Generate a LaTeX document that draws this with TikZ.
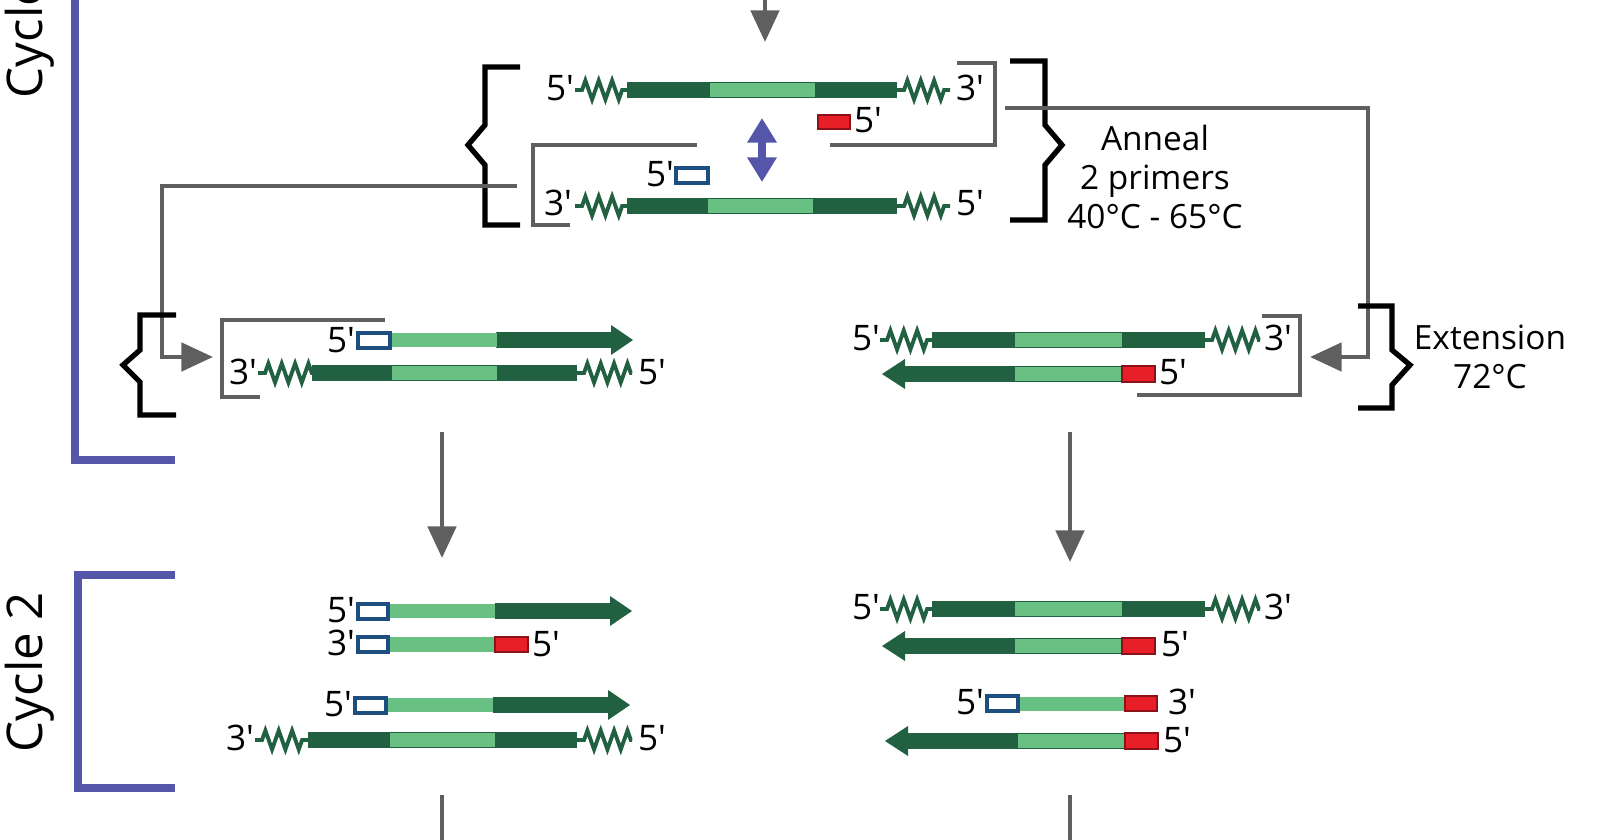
\documentclass[tikz,border=0pt]{standalone}
\usepackage{fontspec}
\setmainfont{Open Sans}[Ligatures=TeXOff]
\usetikzlibrary{arrows.meta,decorations.pathmorphing}

\definecolor{dkgreen}{RGB}{33,96,64}
\definecolor{ltgreen}{RGB}{104,192,131}
\definecolor{prred}{RGB}{232,30,40}
\definecolor{prblue}{RGB}{30,78,128}
\definecolor{cycpurple}{RGB}{85,85,170}
\definecolor{conngray}{RGB}{95,95,95}

\tikzset{
  zz/.style={dkgreen, line width=1.1pt, decorate,
    decoration={zigzag, segment length=3.8pt, amplitude=2.7pt, pre length=2pt, post length=0pt}},
  dark/.style={fill=dkgreen},
  light/.style={fill=ltgreen},
  redp/.style={fill=prred, draw=prred!60!black, line width=0.5pt},
  bluep/.style={fill=white, draw=prblue, line width=1pt},
  lab/.style={font=\fontsize{10}{12}\selectfont, inner sep=0pt},
  txt/.style={font=\fontsize{9.5}{12}\selectfont, inner sep=0pt, align=center},
  cyc/.style={font=\fontsize{14}{17}\selectfont, inner sep=0pt, rotate=90},
  conn/.style={conngray, line width=1.3pt},
  arr/.style={conn, -{Triangle[length=9pt, width=8pt]}},
  brace/.style={black, line width=1.5pt},
  bracket/.style={conngray, line width=1.3pt},
  cycbr/.style={cycpurple, line width=2.2pt}
}

% template strand: zigzag, dark bar, light middle, zigzag
\newcommand{\template}[7]{%
  \draw[zz] (#1,#7) -- (#2,#7);
  \fill[dark] (#2,#7-8) rectangle (#5,#7+8);
  \fill[light] (#3,#7-7) rectangle (#4,#7+7);
  \draw[zz] (#5,#7) -- (#6,#7);
}
% strand growing to the right, ends in a head at #1+22
\newcommand{\rstrand}[2]{%
  \fill[dark] (#1-115,#2-8) rectangle (#1,#2+8);
  \fill[dark] (#1,#2-15) -- (#1+22,#2) -- (#1,#2+15) -- cycle;
}
% strand growing to the left, head tip at #1
\newcommand{\lstrand}[3]{%
  \fill[dark] (#1+23,#3-8) rectangle (#2,#3+8);
  \fill[dark] (#1+23,#3-15) -- (#1,#3) -- (#1+23,#3+15) -- cycle;
}

\begin{document}
\begin{tikzpicture}[x=0.01cm, y=-0.01cm]
\useasboundingbox (0,0) rectangle (1600,840);

% cycle brackets
\draw[cycbr] (75,-5) -- (75,460) -- (175,460);
\draw[cycbr] (175,575) -- (78,575) -- (78,788) -- (175,788);
\node[cyc] (cyc1) at (30,18) {Cycle 1};
\node[cyc] (cyc2) at (30,672) {Cycle 2};

% top: anneal
\coordinate (topin) at (765,-5);
\coordinate (topout) at (765,42);
\draw[arr] (topin) -- (topout);

\template{575}{627}{710}{815}{897}{950}{90}
\node[lab] (a1) at (560,88) {5'};
\node[lab] (a2) at (970,88) {3'};
\fill[redp] (818,115) rectangle (850,129);
\node[lab] (a3) at (868,120) {5'};
\draw[cycpurple, line width=2.2pt, {Triangle[length=7pt,width=8pt]}-{Triangle[length=7pt,width=8pt]}] (762,118) -- (762,182);
\fill[bluep] (676,168) rectangle (708,183);
\node[lab] (a4) at (660,174) {5'};
\template{575}{627}{708}{813}{897}{950}{206}
\node[lab] (a5) at (558,203) {3'};
\node[lab] (a6) at (970,203) {5'};

\draw[brace] (520,67) -- (485,67) -- (485,125) -- (468,145) -- (485,165) -- (485,225) -- (520,225);
\draw[bracket] (697,145) -- (533,145) -- (533,225) -- (570,225);
\draw[bracket] (957,63) -- (995,63) -- (995,145) -- (830,145);
\draw[brace] (1010,61) -- (1045,61) -- (1045,125) -- (1062,145) -- (1045,165) -- (1045,220) -- (1010,220);
\node[txt] (anneal) at (1155,177) {Anneal\\[-1pt]2 primers\\[-1pt]40°C - 65°C};

\coordinate (lconn) at (517,186);
\coordinate (lhead) at (213,357);
\draw[arr] (lconn) -- (162,186) -- (162,357) -- (lhead);
\coordinate (rconn) at (1005,108);
\coordinate (rhead) at (1310,357);
\draw[arr] (rconn) -- (1368,108) -- (1368,357) -- (rhead);

% cycle 1 extension, left
\draw[brace] (176,315) -- (140,315) -- (140,350) -- (123,365) -- (140,382) -- (140,415) -- (176,415);
\draw[bracket] (385,320) -- (222,320) -- (222,397) -- (260,397);
\rstrand{611}{340}
\fill[light] (390,333) rectangle (497,347);
\fill[bluep] (358,333) rectangle (390,348);
\node[lab] (b1) at (341,340) {5'};
\template{258}{312}{392}{497}{577}{632}{373}
\node[lab] (b2) at (243,372) {3'};
\node[lab] (b3) at (652,372) {5'};

% cycle 1 extension, right
\template{880}{932}{1015}{1122}{1205}{1260}{340}
\node[lab] (c1) at (866,338) {5'};
\node[lab] (c2) at (1278,338) {3'};
\lstrand{882}{1122}{374}
\fill[light] (1015,367) rectangle (1122,381);
\fill[redp] (1122,366) rectangle (1155,382);
\node[lab] (c3) at (1173,372) {5'};
\draw[bracket] (1262,316) -- (1300,316) -- (1300,395) -- (1137,395);
\draw[brace] (1358,306) -- (1392,306) -- (1392,350) -- (1410,365) -- (1392,385) -- (1392,408) -- (1358,408);
\node[txt] (ext) at (1490,357) {Extension\\[-1pt]72°C};

% down arrows
\coordinate (l1) at (442,432); \coordinate (l2) at (442,558);
\coordinate (r1) at (1070,432); \coordinate (r2) at (1070,562);
\draw[arr] (l1) -- (l2);
\draw[arr] (r1) -- (r2);
\coordinate (l3) at (442,795); \coordinate (l4) at (442,845);
\coordinate (r3) at (1070,795); \coordinate (r4) at (1070,845);
\draw[conn] (l3) -- (l4);
\draw[conn] (r3) -- (r4);

% cycle 2, left
\rstrand{610}{611}
\fill[light] (388,604) rectangle (495,618);
\fill[bluep] (358,604) rectangle (388,619);
\node[lab] (d1) at (341,610) {5'};
\fill[light] (388,637) rectangle (495,652);
\fill[bluep] (358,637) rectangle (388,652);
\fill[redp] (495,637) rectangle (528,652);
\node[lab] (d2) at (341,643) {3'};
\node[lab] (d3) at (546,644) {5'};
\rstrand{608}{705}
\fill[light] (386,698) rectangle (493,712);
\fill[bluep] (355,698) rectangle (386,713);
\node[lab] (d4) at (338,704) {5'};
\template{255}{308}{390}{495}{577}{632}{740}
\node[lab] (d5) at (240,738) {3'};
\node[lab] (d6) at (652,738) {5'};

% cycle 2, right
\template{880}{932}{1015}{1122}{1205}{1260}{609}
\node[lab] (e1) at (866,607) {5'};
\node[lab] (e2) at (1278,607) {3'};
\lstrand{882}{1122}{646}
\fill[light] (1015,639) rectangle (1122,653);
\fill[redp] (1122,638) rectangle (1155,654);
\node[lab] (e3) at (1175,644) {5'};
\fill[light] (1018,697) rectangle (1125,711);
\fill[bluep] (987,696) rectangle (1018,711);
\fill[redp] (1125,696) rectangle (1157,711);
\node[lab] (e4) at (970,702) {5'};
\node[lab] (e5) at (1182,702) {3'};
\lstrand{885}{1125}{741}
\fill[light] (1018,734) rectangle (1125,748);
\fill[redp] (1125,733) rectangle (1158,749);
\node[lab] (e6) at (1177,740) {5'};
\end{tikzpicture}
\end{document}
